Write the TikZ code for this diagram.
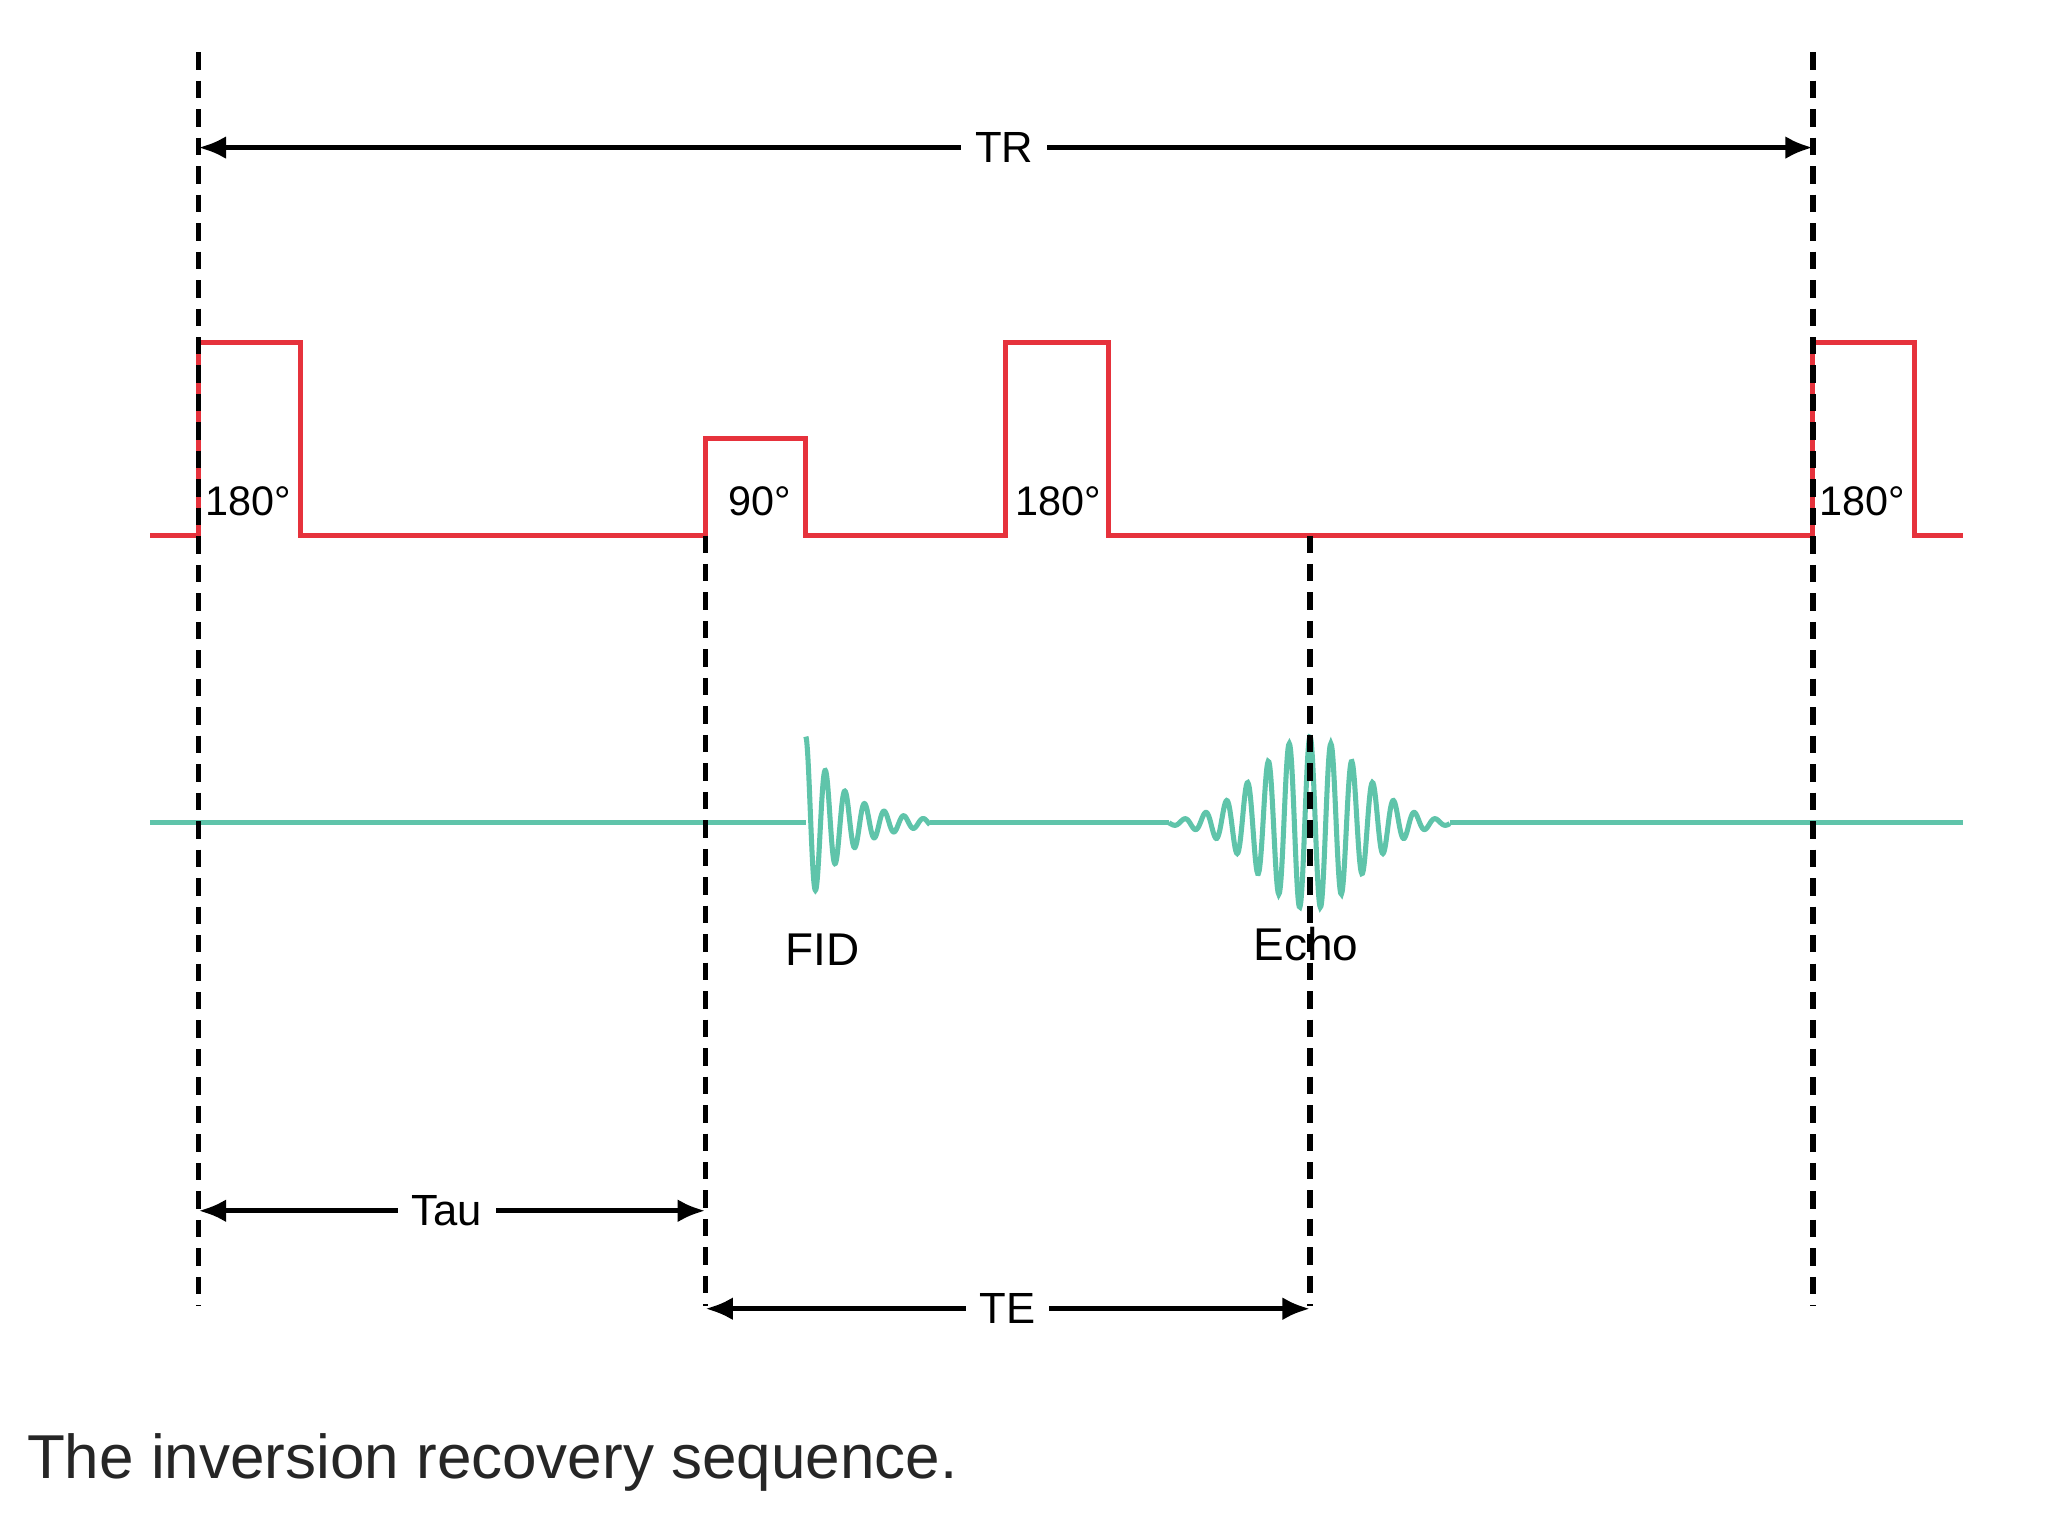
\documentclass[tikz,border=0pt]{standalone}
\usepackage{fontspec}
\setmainfont{Liberation Sans}
\usetikzlibrary{arrows.meta}
\begin{document}
\begin{tikzpicture}[x=0.01cm,y=-0.01cm,
  vdash/.style={line width=1.2pt,dash pattern=on 3.8pt off 2.4pt},
  dimarrow/.style={line width=1.1pt,{Latex[length=6pt,width=5pt]}-{Latex[length=6pt,width=5pt]}},
  rf/.style={line width=1.1pt,color={rgb,255:red,230;green,50;blue,60}},
  sig/.style={line width=1.1pt,color={rgb,255:red,95;green,196;blue,170}},
  lbl/.style={font=\fontsize{9}{10}\selectfont,inner sep=1pt},
  dlbl/.style={font=\fontsize{9.5}{10}\selectfont,fill=white,inner sep=3pt}]
\fill[white] (0,0) rectangle (1568,1176);
\useasboundingbox (0,0) rectangle (1568,1176);
% dashed verticals
\coordinate (a1) at (152,40); \coordinate (a2) at (152,1000);
\coordinate (b1) at (1388,40); \coordinate (b2) at (1388,1000);
\coordinate (c1) at (540,410); \coordinate (c2) at (540,1000);
\coordinate (d1) at (1003,410); \coordinate (d2) at (1003,1000);
% RF line
\draw[rf] (115,410) -- (152,410) -- (152,262) -- (230,262) -- (230,410) -- (540,410) -- (540,336) -- (617,336) -- (617,410) -- (770,410) -- (770,262) -- (849,262) -- (849,410) -- (1388,410) -- (1388,262) -- (1466,262) -- (1466,410) -- (1503,410);
% signal
\draw[sig] (115,630) -- (617,630);
\draw[sig] plot[domain=617:712,samples=300,smooth] (\x,{630-66*exp(-(\x-617)/30)*sin(((\x-617)/15)*360+90)});
\draw[sig] (712,630) -- (895,630);
\draw[sig] plot[domain=895:1110,samples=400,smooth] (\x,{630-66*exp(-((\x-1003)/55)^2)*cos(((\x-1003)/16)*360)});
\draw[sig] (1110,630) -- (1503,630);
% dashed lines on top
\draw[vdash] (a1) -- (a2);
\draw[vdash] (b1) -- (b2);
\draw[vdash] (c1) -- (c2);
\draw[vdash] (d1) -- (d2);
% labels
\node[lbl] (p1) at (190,384) {180°};
\node[lbl] (p2) at (582,384) {90°};
\node[lbl] (p3) at (810,384) {180°};
\node[lbl] (p4) at (1426,384) {180°};
\node[lbl,font=\fontsize{10}{11}\selectfont] (fid) at (630,727) {FID};
\node[lbl,font=\fontsize{10}{11}\selectfont] (echo) at (1000,723) {Echo};
% dimension arrows
\coordinate (tr1) at (152,113); \coordinate (tr2) at (1388,113);
\draw[dimarrow] (tr1) -- (tr2) node[dlbl,pos=0.499] (tr) {TR};
\coordinate (ta1) at (152,927); \coordinate (ta2) at (540,927);
\draw[dimarrow] (ta1) -- (ta2) node[dlbl,pos=0.49] (tau) {Tau};
\coordinate (te1) at (540,1002); \coordinate (te2) at (1003,1002);
\draw[dimarrow] (te1) -- (te2) node[dlbl,midway] (te) {TE};
\node[anchor=west,font=\fontsize{13.5}{15}\selectfont,text=black!85,inner sep=0] (cap) at (20,1120) {The inversion recovery sequence.};
\end{tikzpicture}
\end{document}
